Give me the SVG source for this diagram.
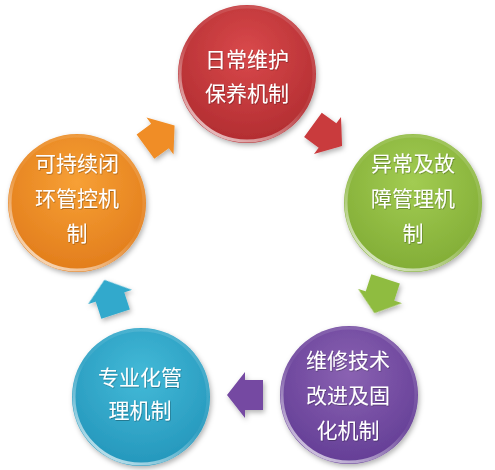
<svg xmlns="http://www.w3.org/2000/svg" width="495" height="470" viewBox="0 0 495 470">
<defs>
<style>
.lbl{font-family:"Noto Sans CJK SC","Noto Sans",sans-serif;font-size:21px;fill:#fff;text-anchor:middle}
.rim{fill:none;stroke:url(#rimG);stroke-width:3}
</style>
<filter id="sh" x="-20%" y="-20%" width="140%" height="140%">
<feDropShadow dx="1.5" dy="2.5" stdDeviation="2.5" flood-color="#000" flood-opacity="0.3"/>
</filter>
<filter id="ts" x="-10%" y="-20%" width="120%" height="140%">
<feDropShadow dx="0.6" dy="0.8" stdDeviation="0.6" flood-color="#000" flood-opacity="0.35"/>
</filter>
<linearGradient id="rimG" x1="0.8" y1="0" x2="0.2" y2="1">
<stop offset="0" stop-color="#fff" stop-opacity="0.15"/>
<stop offset="0.5" stop-color="#fff" stop-opacity="0.05"/>
<stop offset="1" stop-color="#fff" stop-opacity="0.75"/>
</linearGradient>
<radialGradient id="gR" cx="0.5" cy="0.35" r="0.65">
<stop offset="0" stop-color="#d9494b"/><stop offset="1" stop-color="#b22d31"/>
</radialGradient>
<radialGradient id="gG" cx="0.5" cy="0.35" r="0.65">
<stop offset="0" stop-color="#a2cc52"/><stop offset="1" stop-color="#82ad36"/>
</radialGradient>
<radialGradient id="gP" cx="0.5" cy="0.35" r="0.65">
<stop offset="0" stop-color="#8a62b2"/><stop offset="1" stop-color="#643e96"/>
</radialGradient>
<radialGradient id="gB" cx="0.5" cy="0.35" r="0.65">
<stop offset="0" stop-color="#43bad8"/><stop offset="1" stop-color="#2597bc"/>
</radialGradient>
<radialGradient id="gO" cx="0.5" cy="0.35" r="0.65">
<stop offset="0" stop-color="#f7a035"/><stop offset="1" stop-color="#e27d1c"/>
</radialGradient>
<path id="arr" d="M18,0 L0,-23 L0,-15 L-18,-15 L-18,15 L0,15 L0,23 Z"/>
</defs>

<g id="connectors" filter="url(#sh)">
<use href="#arr" transform="translate(327.5,135.5) rotate(36)" fill="#c93a3d"/>
<use href="#arr" transform="translate(380,296) rotate(108)" fill="#8fbc3f"/>
<use href="#arr" transform="translate(245,395) rotate(180)" fill="#7449a2"/>
<use href="#arr" transform="translate(110,297) rotate(252)" fill="#30a9cc"/>
<use href="#arr" transform="translate(160,136) rotate(324)" fill="#f08d25"/>
</g>

<g id="n1">
<circle cx="247" cy="74" r="69" fill="url(#gR)" filter="url(#sh)"/>
<circle cx="247" cy="74" r="67" class="rim"/>
<g filter="url(#ts)"><text class="lbl" x="247" y="67">日常维护</text><text class="lbl" x="247" y="101">保养机制</text></g>
</g>
<g id="n2">
<circle cx="413" cy="203" r="69" fill="url(#gG)" filter="url(#sh)"/>
<circle cx="413" cy="203" r="67" class="rim"/>
<g filter="url(#ts)"><text class="lbl" x="413" y="171">异常及故</text><text class="lbl" x="413" y="206">障管理机</text><text class="lbl" x="413" y="241">制</text></g>
</g>
<g id="n3">
<circle cx="349" cy="395" r="69" fill="url(#gP)" filter="url(#sh)"/>
<circle cx="349" cy="395" r="67" class="rim"/>
<g filter="url(#ts)"><text class="lbl" x="348" y="368">维修技术</text><text class="lbl" x="348" y="403">改进及固</text><text class="lbl" x="348" y="438">化机制</text></g>
</g>
<g id="n4">
<circle cx="141" cy="397" r="69" fill="url(#gB)" filter="url(#sh)"/>
<circle cx="141" cy="397" r="67" class="rim"/>
<g filter="url(#ts)"><text class="lbl" x="140" y="385">专业化管</text><text class="lbl" x="140" y="418">理机制</text></g>
</g>
<g id="n5">
<circle cx="77" cy="203" r="69" fill="url(#gO)" filter="url(#sh)"/>
<circle cx="77" cy="203" r="67" class="rim"/>
<g filter="url(#ts)"><text class="lbl" x="77" y="171">可持续闭</text><text class="lbl" x="77" y="206">环管控机</text><text class="lbl" x="77" y="241">制</text></g>
</g>
</svg>
